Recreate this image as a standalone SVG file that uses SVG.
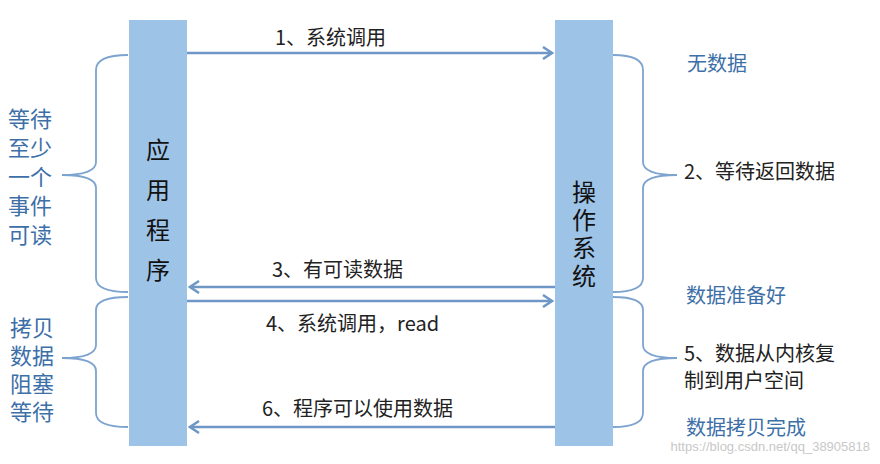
<svg xmlns="http://www.w3.org/2000/svg" width="880" height="464" viewBox="0 0 880 464">
<style>
.bar{fill:#9dc3e6}
.ar{stroke:#6f97c6;stroke-width:2.5;fill:none}
.br{stroke:#7da3cf;stroke-width:1.8;fill:none}
.t{font-family:"Noto Sans CJK SC",sans-serif;font-size:20px;fill:#222}
.b{font-family:"Noto Sans CJK SC",sans-serif;font-size:20px;fill:#3d6fa8}
.s{font-family:"Noto Sans CJK SC",sans-serif;font-size:22px;fill:#3d6fa8}
.v{font-family:"Noto Sans CJK SC",sans-serif;font-size:24px;fill:#111;writing-mode:tb}
</style>
<defs><marker id="m" markerWidth="12" markerHeight="14" refX="10" refY="7" orient="auto" markerUnits="userSpaceOnUse"><path d="M1,1 L10,7 L1,13" fill="none" stroke="#6f97c6" stroke-width="2.5"/></marker></defs>
<rect width="880" height="464" fill="#fff"/>
<g id="app"><rect class="bar" x="129" y="20" width="58" height="426"/>
<text class="v" x="158" y="138" letter-spacing="16">应用程序</text></g>
<g id="os"><rect class="bar" x="555" y="20" width="58" height="426"/>
<text class="v" x="584" y="180" letter-spacing="4">操作系统</text></g>
<g id="connectors">
<line class="ar" x1="187" y1="53" x2="552" y2="53" marker-end="url(#m)"/>
<line class="ar" x1="555" y1="287" x2="190" y2="287" marker-end="url(#m)"/>
<line class="ar" x1="187" y1="301" x2="552" y2="301" marker-end="url(#m)"/>
<line class="ar" x1="555" y1="427" x2="190" y2="427" marker-end="url(#m)"/>
</g>
<g id="labels">
<text class="t" x="275" y="45">1、系统调用</text>
<text class="t" x="272" y="277">3、有可读数据</text>
<text class="t" x="266" y="331">4、系统调用，read</text>
<text class="t" x="262" y="416">6、程序可以使用数据</text>
</g>
<g id="braces">
<path class="br" d="M128,55 Q96,55 96,70 L96,162 Q96,175 62,175 Q96,175 96,188 L96,278 Q96,292 128,292"/>
<path class="br" d="M128,297 Q96,297 96,310 L96,345 Q96,358 62,358 Q96,358 96,371 L96,413 Q96,427 128,427"/>
<path class="br" d="M613,55 Q643,55 643,70 L643,162 Q643,175 677,175 Q643,175 643,188 L643,278 Q643,292 613,292"/>
<path class="br" d="M613,297 Q643,297 643,310 L643,345 Q643,358 677,358 Q643,358 643,371 L643,413 Q643,427 613,427"/>
</g>
<g id="side">
<text class="s" x="8" y="127">等待</text><text class="s" x="8" y="156">至少</text><text class="s" x="8" y="185">一个</text><text class="s" x="8" y="214">事件</text><text class="s" x="8" y="243">可读</text>
<text class="s" x="10" y="336">拷贝</text><text class="s" x="10" y="364">数据</text><text class="s" x="10" y="392">阻塞</text><text class="s" x="10" y="420">等待</text>
<text class="b" x="687" y="71">无数据</text>
<text class="t" x="684" y="179">2、等待返回数据</text>
<text class="b" x="686" y="303">数据准备好</text>
<text class="t" x="684" y="361">5、数据从内核复</text>
<text class="t" x="684" y="388">制到用户空间</text>
<text class="b" x="686" y="435">数据拷贝完成</text>
<text x="870" y="451" text-anchor="end" font-family="Liberation Sans,sans-serif" font-size="13" fill="#c8c8c8">https://blog.csdn.net/qq_38905818</text>
</g>
</svg>
